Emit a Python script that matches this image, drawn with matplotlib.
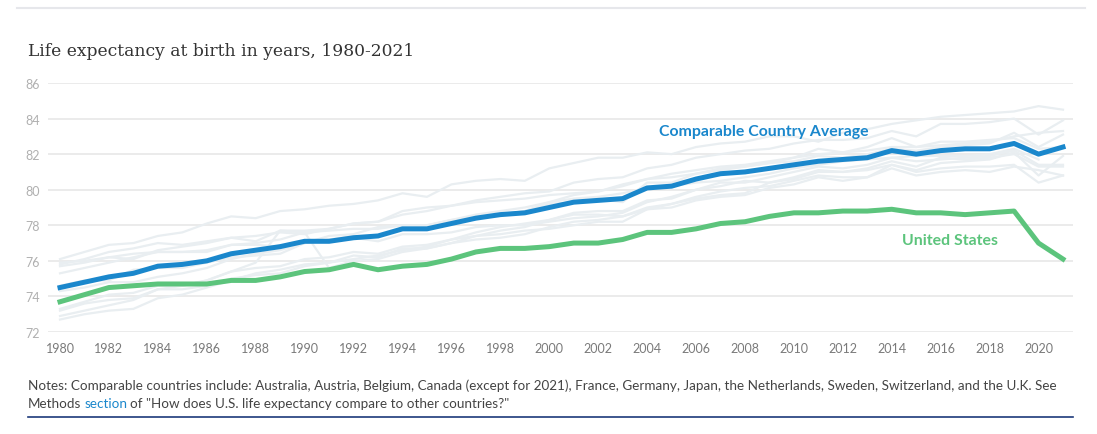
import numpy as np
import matplotlib.pyplot as plt
from matplotlib.lines import Line2D

years = list(range(1980, 2022))

# comparable country average and the U.S.
average = [74.5, 74.8, 75.1, 75.3, 75.7, 75.8, 76.0, 76.4, 76.6, 76.8,
           77.1, 77.1, 77.3, 77.4, 77.8, 77.8, 78.1, 78.4, 78.6, 78.7,
           79.0, 79.3, 79.4, 79.5, 80.1, 80.2, 80.6, 80.9, 81.0, 81.2,
           81.4, 81.6, 81.7, 81.8, 82.2, 82.0, 82.2, 82.3, 82.3, 82.6,
           82.0, 82.4]
united_states = [73.7, 74.1, 74.5, 74.6, 74.7, 74.7, 74.7, 74.9, 74.9, 75.1,
                 75.4, 75.5, 75.8, 75.5, 75.7, 75.8, 76.1, 76.5, 76.7, 76.7,
                 76.8, 77.0, 77.0, 77.2, 77.6, 77.6, 77.8, 78.1, 78.2, 78.5,
                 78.7, 78.7, 78.8, 78.8, 78.9, 78.7, 78.7, 78.6, 78.7, 78.8,
                 77.0, 76.1]

# individual comparable countries (light gray lines)
japan = [76.1, 76.5, 76.9, 77.0, 77.4, 77.6, 78.1, 78.5, 78.4, 78.8,
         78.9, 79.1, 79.2, 79.4, 79.8, 79.6, 80.3, 80.5, 80.6, 80.5,
         81.2, 81.5, 81.8, 81.8, 82.1, 82.0, 82.4, 82.6, 82.7, 83.0,
         83.0, 82.7, 83.2, 83.4, 83.7, 83.9, 84.1, 84.2, 84.3, 84.4,
         84.7, 84.5]
switzerland = [75.7, 75.9, 76.2, 76.1, 76.6, 76.8, 77.0, 77.3, 77.4, 77.6,
               77.5, 77.8, 78.1, 78.2, 78.6, 78.8, 79.1, 79.4, 79.6, 79.8,
               79.9, 80.4, 80.6, 80.7, 81.2, 81.4, 81.8, 82.0, 82.2, 82.3,
               82.6, 82.8, 82.8, 82.9, 83.3, 83.0, 83.7, 83.7, 83.8, 84.0,
               83.1, 83.9]
australia = [74.6, 74.9, 74.9, 75.5, 75.6, 75.6, 75.9, 76.2, 76.3, 76.4,
             77.0, 77.4, 77.5, 77.9, 78.0, 78.0, 78.3, 78.6, 78.8, 79.0,
             79.3, 79.7, 79.9, 80.3, 80.6, 80.9, 81.1, 81.3, 81.4, 81.6,
             81.8, 82.0, 82.1, 82.2, 82.4, 82.4, 82.5, 82.6, 82.7, 83.0,
             83.2, 83.3]
sweden = [75.8, 76.1, 76.5, 76.7, 77.0, 76.9, 77.1, 77.3, 77.1, 77.7,
          77.7, 77.8, 78.1, 78.2, 78.8, 79.0, 79.1, 79.3, 79.4, 79.5,
          79.7, 79.8, 79.9, 80.2, 80.6, 80.7, 80.9, 81.1, 81.3, 81.5,
          81.6, 81.9, 81.8, 82.0, 82.3, 82.2, 82.4, 82.5, 82.6, 83.2,
          82.4, 83.1]
france = [74.3, 74.5, 74.8, 74.8, 75.1, 75.3, 75.6, 76.1, 76.4, 76.6,
          77.0, 77.2, 77.4, 77.4, 77.8, 77.9, 78.1, 78.5, 78.6, 78.8,
          79.2, 79.3, 79.5, 79.3, 80.4, 80.4, 80.9, 81.2, 81.3, 81.5,
          81.8, 82.3, 82.1, 82.4, 82.9, 82.4, 82.7, 82.7, 82.8, 82.9,
          82.3, 82.4]
canada = [75.3, 75.6, 75.9, 76.2, 76.5, 76.5, 76.6, 76.9, 77.0, 77.2,
          77.6, 77.7, 77.8, 77.8, 78.0, 78.0, 78.3, 78.4, 78.6, 78.8,
          79.3, 79.5, 79.6, 79.8, 80.1, 80.2, 80.4, 80.5, 80.7, 80.9,
          81.2, 81.4, 81.6, 81.7, 81.8, 81.9, 81.9, 81.9, 82.0, 82.3,
          81.7, np.nan]
netherlands = [75.9, 76.0, 76.2, 76.4, 76.5, 76.5, 76.5, 76.9, 76.9, 76.8,
               77.0, 77.2, 77.3, 77.1, 77.5, 77.5, 77.6, 77.9, 78.0, 78.0,
               78.2, 78.4, 78.5, 78.7, 79.3, 79.6, 80.0, 80.4, 80.4, 80.7,
               81.0, 81.3, 81.2, 81.4, 81.8, 81.6, 81.7, 81.8, 81.9, 82.2,
               81.4, 81.4]
belgium = [73.3, 73.7, 74.1, 74.2, 74.6, 74.6, 74.9, 75.4, 75.6, 75.7,
           76.1, 76.2, 76.5, 76.4, 76.8, 76.9, 77.2, 77.4, 77.5, 77.7,
           77.8, 78.0, 78.2, 78.2, 78.9, 79.0, 79.4, 79.6, 79.7, 80.1,
           80.3, 80.7, 80.5, 80.7, 81.4, 81.1, 81.5, 81.6, 81.7, 82.1,
           80.8, 81.9]
austria = [72.7, 73.0, 73.2, 73.3, 73.9, 74.1, 74.5, 74.9, 75.3, 75.5,
           75.8, 75.9, 76.1, 76.3, 76.6, 76.8, 77.2, 77.6, 77.9, 78.1,
           78.3, 78.7, 78.8, 78.8, 79.4, 79.5, 80.0, 80.2, 80.5, 80.4,
           80.7, 81.1, 81.0, 81.2, 81.6, 81.3, 81.8, 81.7, 81.8, 82.0,
           81.3, 81.3]
germany = [72.9, 73.2, 73.5, 73.8, 74.4, 74.6, 74.9, 75.4, 75.9, 77.7,
           77.6, 75.6, 76.0, 76.1, 76.5, 76.7, 77.0, 77.4, 77.7, 77.9,
           78.3, 78.6, 78.6, 78.5, 79.0, 79.2, 79.6, 79.9, 80.1, 80.2,
           80.5, 80.8, 80.7, 80.7, 81.2, 80.8, 81.0, 81.1, 81.0, 81.3,
           81.1, 80.8]
uk = [73.2, 73.6, 73.8, 73.9, 74.4, 74.4, 74.6, 75.0, 75.2, 75.3,
      75.7, 75.9, 76.3, 76.2, 76.7, 76.7, 77.0, 77.2, 77.3, 77.5,
      77.9, 78.2, 78.3, 78.5, 78.9, 79.2, 79.5, 79.7, 79.8, 80.4,
      80.6, 81.0, 81.0, 81.1, 81.4, 81.0, 81.2, 81.3, 81.3, 81.4,
      80.4, 80.8]
countries = [japan, switzerland, australia, sweden, france, canada,
             netherlands, belgium, austria, germany, uk]

y_ticks = [72, 74, 76, 78, 80, 82, 84, 86]
x_ticks = list(range(1980, 2021, 2))

blue = '#1a87cc'
green = '#5cc47c'

W, H = 1097, 435
fig = plt.figure(figsize=(W / 100, H / 100), dpi=100)
ax = fig.add_axes([48 / W, 1 - 333 / H, (1073 - 48) / W, (333 - 84) / H])

for c in countries:
    ax.plot(years, c, color='#e9eef1', lw=1.6, solid_joinstyle='round', zorder=2)
ax.plot(years, united_states, color=green, lw=3.6, solid_joinstyle='round', zorder=4)
ax.plot(years, average, color=blue, lw=3.6, solid_joinstyle='round', zorder=5)

ax.set_ylim(72, 86)
ax.set_xlim(1980 - 12 / 24.46, 2021 + 10 / 24.46)
ax.set_yticks(y_ticks)
ax.set_xticks(x_ticks)
ax.grid(axis='y', color='#e6e6e6', lw=1.1, zorder=0)
for s in ax.spines.values():
    s.set_visible(False)
ax.tick_params(axis='both', length=0)
ax.tick_params(axis='y', pad=6, labelsize=9, labelcolor='#b0b0b0')
ax.tick_params(axis='x', pad=7, labelsize=9, labelcolor='#7a7a7a')
for lab in ax.get_xticklabels() + ax.get_yticklabels():
    lab.set_fontfamily('Lato')

ax.text(2004.5, 83.3, 'Comparable Country Average', color=blue, ha='left',
        va='center', fontsize=11.4, fontweight='bold', family='Lato')
ax.text(2016.4, 77.2, 'United States', color=green, ha='center',
        va='center', fontsize=11.4, fontweight='bold', family='Lato')

fig.text(28 / W, 1 - 52 / H, 'Life expectancy at birth in years, 1980-2021',
         fontsize=12.3, family='DejaVu Serif', color='#333333', va='center')

note_kw = dict(fontsize=9.7, family='Lato', color='#444444', va='center')
fig.text(28 / W, 1 - 386 / H,
         'Notes: Comparable countries include: Australia, Austria, Belgium, Canada '
         '(except for 2021), France, Germany, Japan, the Netherlands, Sweden, '
         'Switzerland, and the U.K. See', **note_kw)
t1 = fig.text(28 / W, 1 - 404 / H, 'Methods', **note_kw)
fig.canvas.draw()
r = fig.canvas.get_renderer()
x1 = t1.get_window_extent(r).x1
t2 = fig.text((x1 + 3) / W, 1 - 404 / H, 'section', **{**note_kw, 'color': '#1a87cc'})
x2 = t2.get_window_extent(r).x1
fig.text((x2 + 3) / W, 1 - 404 / H,
         'of "How does U.S. life expectancy compare to other countries?"', **note_kw)

fig.add_artist(Line2D([17 / W, 1085 / W], [1 - 9 / H, 1 - 9 / H],
                      color='#e6e7eb', lw=1.5))
fig.add_artist(Line2D([28 / W, 1073 / W], [1 - 418 / H, 1 - 418 / H],
                      color='#1d3a7a', lw=1.2))

fig.savefig('out.png', dpi=100)
